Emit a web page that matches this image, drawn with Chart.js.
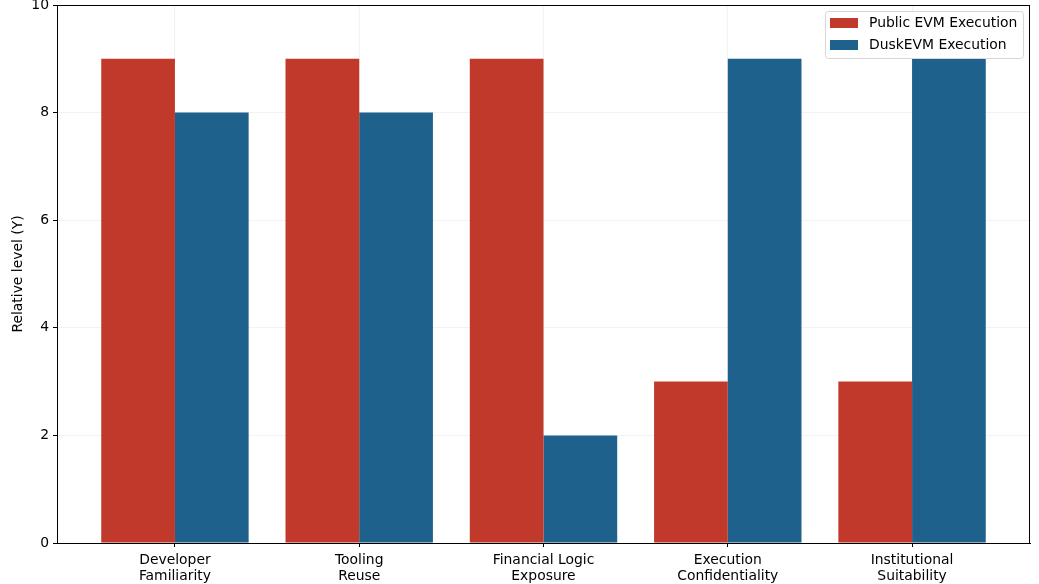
<!DOCTYPE html>
<html>
<head>
<meta charset="utf-8">
<script src="https://cdn.jsdelivr.net/npm/chart.js@4"></script>
<style>
  html, body { margin: 0; padding: 0; background: #fff; }
  #wrap { width: 1039px; height: 584px; }
</style>
</head>
<body>
<div id="wrap"><canvas id="barChart" width="1039" height="584"></canvas></div>
<script>
// Chart data
const categories = [['Developer', 'Familiarity'], ['Tooling', 'Reuse'], ['Financial Logic', 'Exposure'], ['Execution', 'Confidentiality'], ['Institutional', 'Suitability']];
const publicEvm = [9, 9, 9, 3, 3];
const duskEvm = [8, 8, 2, 9, 9];
const seriesNames = ['Public EVM Execution', 'DuskEVM Execution'];
const yTicks = [0, 2, 4, 6, 8, 10];

const font = { family: 'DejaVu Sans', size: 13.9, lineHeight: 1.15 };

function toPoints(values) {
    return values.map((v, i) => ({ x: i, y: v }));
}

// Box round the plot plus a legend inside the top right corner
const framePlugin = {
    id: 'frame',
    afterDraw(chart) {
        const ctx = chart.ctx;
        const a = chart.chartArea;
        ctx.save();
        ctx.strokeStyle = '#000';
        ctx.lineWidth = 1;
        ctx.strokeRect(a.left + 0.5, a.top + 0.5, a.right - a.left - 1, a.bottom - a.top);

        // legend
        const boxW = 198, boxH = 47;
        const bx = a.right - boxW - 7, by = a.top + 6;
        ctx.fillStyle = 'rgba(255,255,255,0.8)';
        ctx.strokeStyle = '#d6d6d6';
        ctx.beginPath();
        ctx.roundRect(bx + 0.5, by + 0.5, boxW, boxH, 3);
        ctx.fill();
        ctx.stroke();
        ctx.font = font.size + 'px ' + font.family;
        ctx.textBaseline = 'middle';
        chart.data.datasets.forEach((ds, i) => {
            const cy = by + 12 + i * 22;
            ctx.fillStyle = ds.backgroundColor;
            ctx.fillRect(bx + 5, cy - 5, 28, 10);
            ctx.fillStyle = '#000';
            ctx.fillText(ds.label, bx + 44, cy);
        });
        ctx.restore();
    }
};

const ctx = document.getElementById('barChart').getContext('2d');
const barChart = new Chart(ctx, {
    type: 'bar',
    data: {
        datasets: [
            {
                label: seriesNames[0],
                data: toPoints(publicEvm),
                backgroundColor: '#c0392b',
                borderWidth: 0
            },
            {
                label: seriesNames[1],
                data: toPoints(duskEvm),
                backgroundColor: '#1f618d',
                borderWidth: 0
            }
        ]
    },
    options: {
        responsive: false,
        animation: false,
        events: [],
        layout: { padding: { top: 5, right: 9, left: 0, bottom: 0 } },
        datasets: { bar: { categoryPercentage: 0.8, barPercentage: 1.0 } },
        plugins: {
            legend: { display: false },
            tooltip: { enabled: false }
        },
        scales: {
            x: {
                type: 'linear',
                min: -0.64,
                max: 4.64,
                offset: false,
                afterBuildTicks(scale) {
                    scale.ticks = categories.map((c, i) => ({ value: i }));
                },
                afterFit(scale) { scale.height = 41; },
                ticks: {
                    autoSkip: false,
                    maxRotation: 0,
                    padding: 5,
                    color: '#000',
                    font: font,
                    callback: (v) => categories[v]
                },
                grid: {
                    offset: false,
                    color: 'rgba(0,0,0,0.05)',
                    tickColor: '#000',
                    tickLength: 4
                },
                border: { color: '#000' }
            },
            y: {
                min: 0,
                max: 10,
                afterBuildTicks(scale) {
                    scale.ticks = yTicks.map(v => ({ value: v }));
                },
                afterFit(scale) {
                    scale.width = 57;
                    scale.paddingTop = 0;
                    scale.paddingBottom = 0;
                },
                ticks: {
                    padding: 4,
                    color: '#000',
                    font: font
                },
                grid: {
                    color: 'rgba(0,0,0,0.05)',
                    tickColor: '#000',
                    tickLength: 4
                },
                border: { color: '#000' },
                title: {
                    display: true,
                    text: 'Relative level (Y)',
                    color: '#000',
                    font: font,
                    padding: { top: 10, bottom: 8 }
                }
            }
        }
    },
    plugins: [framePlugin]
});
</script>
</body>
</html>
